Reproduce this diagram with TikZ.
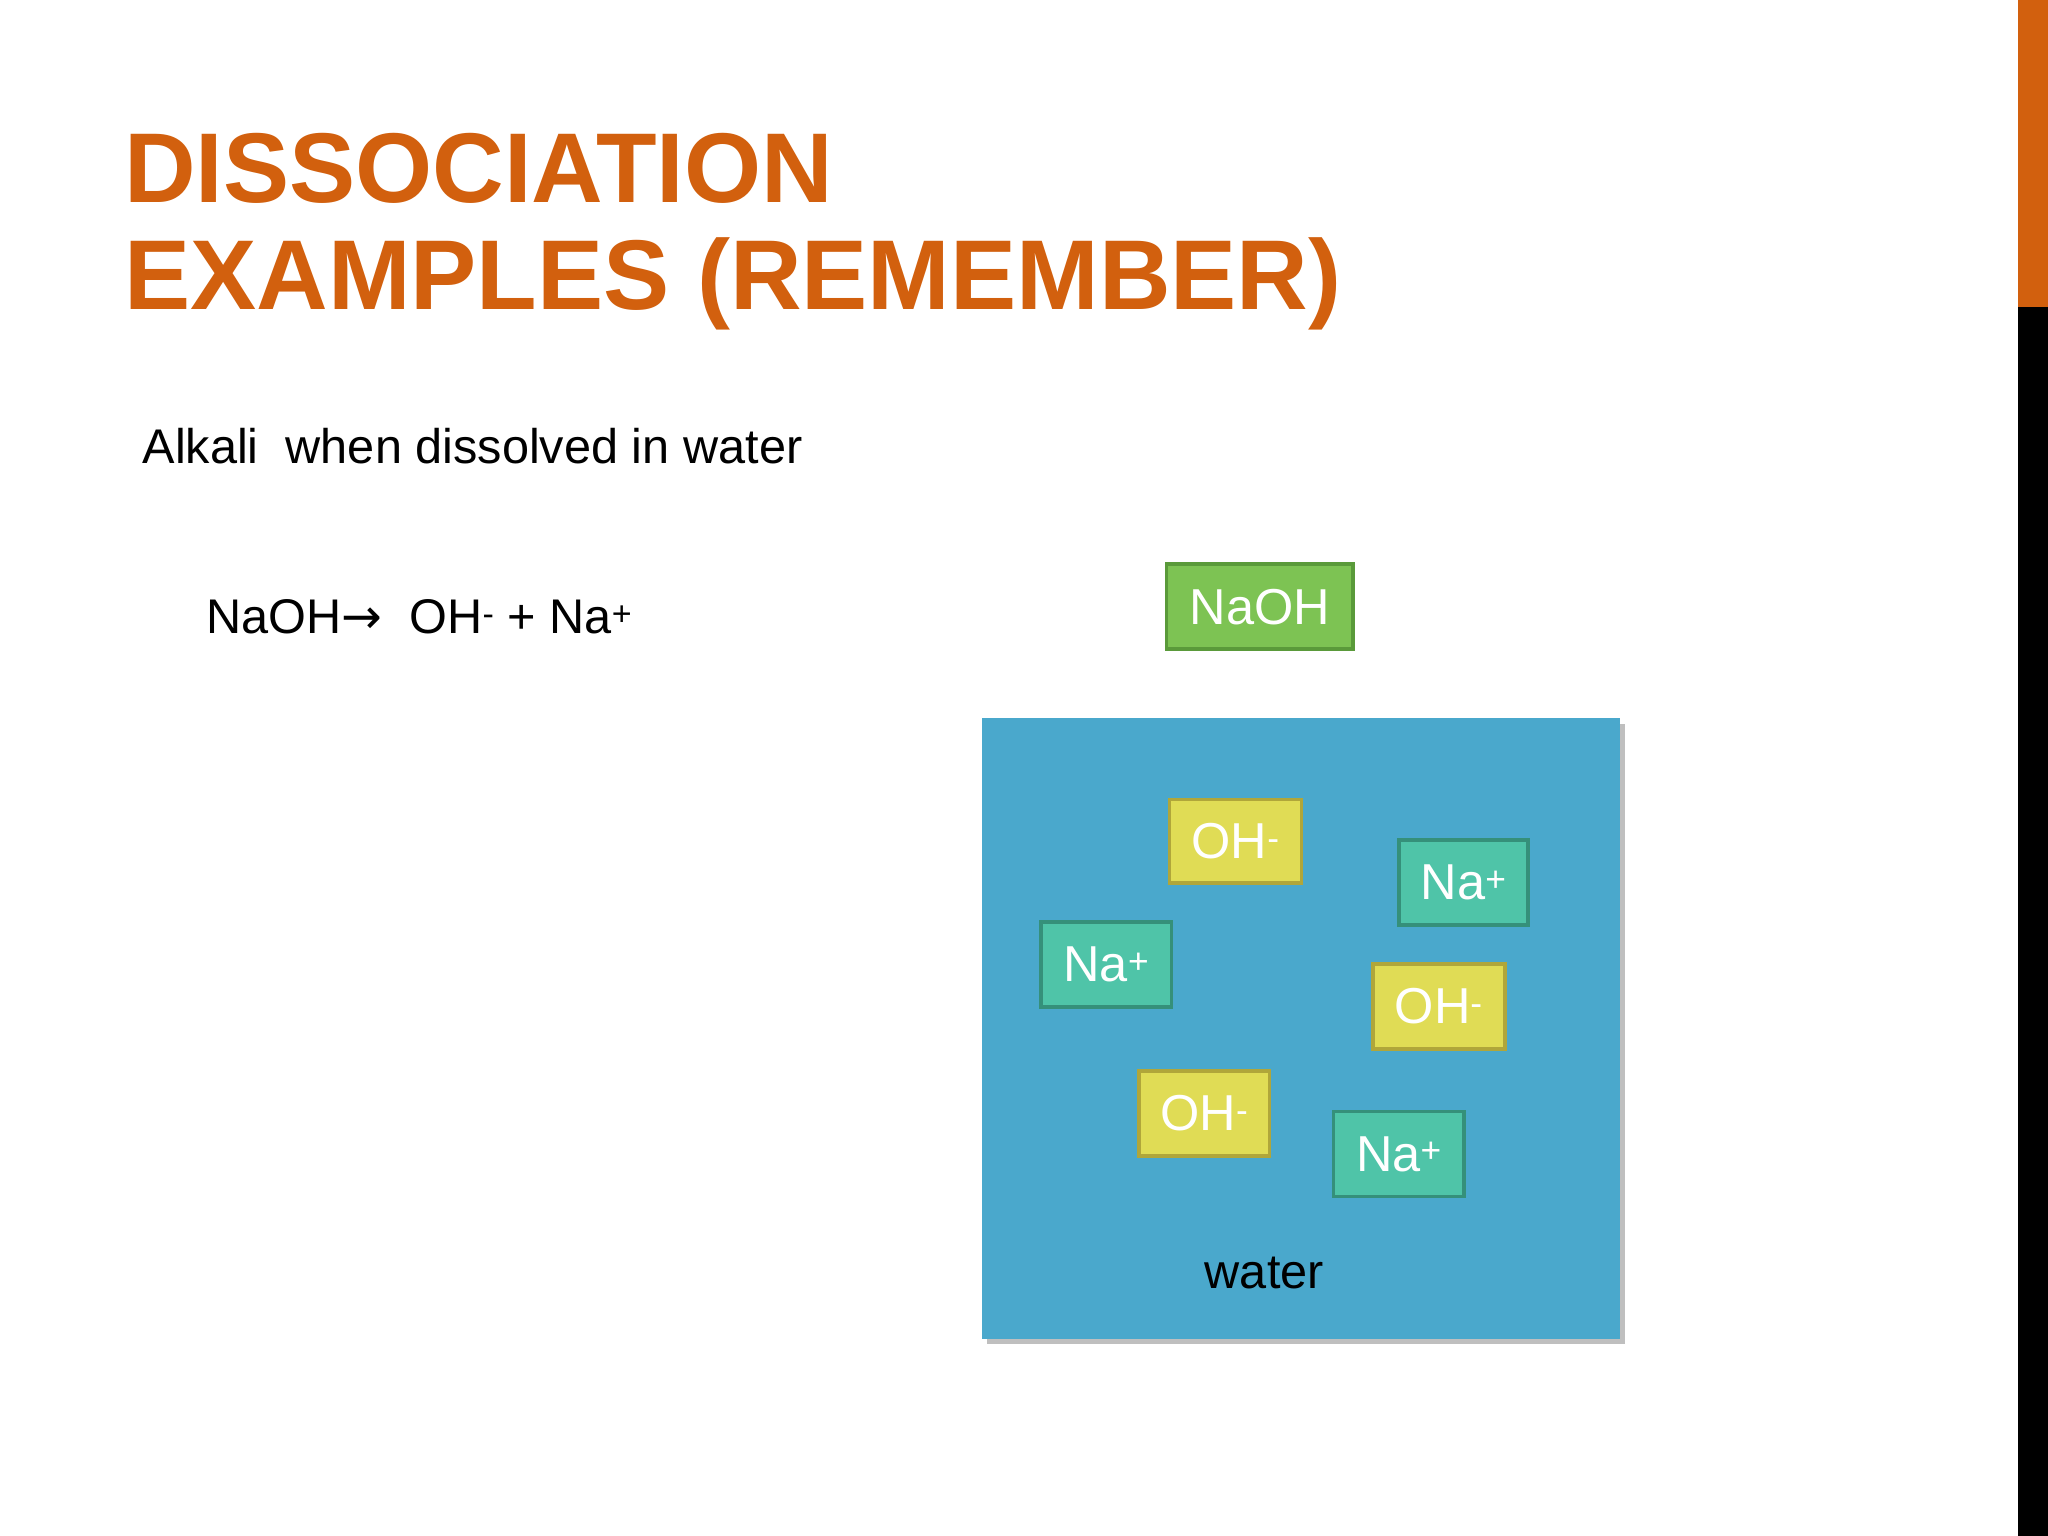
\documentclass[tikz,border=0pt]{standalone}
\usepackage{fontspec}
\setmainfont{Liberation Sans}
\newfontfamily\dejavu{DejaVu Sans}
\definecolor{ttl}{HTML}{D2600E}
\definecolor{grn}{HTML}{7DC353}\definecolor{grnb}{HTML}{5A9A3A}
\definecolor{wat}{HTML}{4AA8CC}
\definecolor{yel}{HTML}{E0DC55}\definecolor{yelb}{HTML}{B0A63A}
\definecolor{tea}{HTML}{4FC4A8}\definecolor{teab}{HTML}{35907A}
\tikzset{ion/.style={draw, line width=4pt, text=white, font=\fontsize{55}{60}\selectfont, inner sep=0pt},
 oh/.style={ion, fill=yel, draw=yelb}, na/.style={ion, fill=tea, draw=teab}}
\begin{document}
\begin{tikzpicture}[x=0.05cm,y=-0.05cm]
\useasboundingbox (0,0) rectangle (1568,1176);
\fill[white] (0,0) rectangle (1568,1176);
\fill[ttl] (1545,0) rectangle (1568,235);
\fill[black] (1545,235) rectangle (1568,1176);
\node[anchor=base west, inner sep=0, text=ttl, font=\bfseries\fontsize{108}{110}\selectfont] (t1) at (95,155) {DISSOCIATION};
\node[anchor=base west, inner sep=0, text=ttl, font=\bfseries\fontsize{108}{110}\selectfont] (t2) at (95,237) {EXAMPLES (REMEMBER)};
\node[anchor=base west, inner sep=0, font=\fontsize{53}{60}\selectfont] (a) at (109,355) {Alkali\ \ when dissolved in water};
\node[anchor=base west, inner sep=0, font=\fontsize{53}{60}\selectfont] (eq) at (158,485) {NaOH{\dejavu →}\ \ OH\textsuperscript{-} + Na\textsuperscript{+}};
\node[ion, fill=grn, draw=grnb, minimum width=143*0.05cm, minimum height=65*0.05cm] (naoh) at (964.5,464.5) {NaOH};
\fill[gray!50] (756,554) rectangle (1244,1029);
\fill[wat] (752,550) rectangle (1240,1025);
\node[oh, minimum width=101*0.05cm, minimum height=64*0.05cm] (o1) at (946,644) {OH\textsuperscript{-}};
\node[na, minimum width=99*0.05cm, minimum height=65*0.05cm] (n1) at (1120.5,675.5) {Na\textsuperscript{+}};
\node[na, minimum width=100*0.05cm, minimum height=65*0.05cm] (n2) at (847,738.5) {Na\textsuperscript{+}};
\node[oh, minimum width=101*0.05cm, minimum height=65*0.05cm] (o2) at (1101.5,770.5) {OH\textsuperscript{-}};
\node[oh, minimum width=100*0.05cm, minimum height=65*0.05cm] (o3) at (922,852.5) {OH\textsuperscript{-}};
\node[na, minimum width=100*0.05cm, minimum height=65*0.05cm] (n3) at (1071,883.5) {Na\textsuperscript{+}};
\node[font=\fontsize{53}{60}\selectfont] (w) at (968,975) {water};
\end{tikzpicture}
\end{document}
